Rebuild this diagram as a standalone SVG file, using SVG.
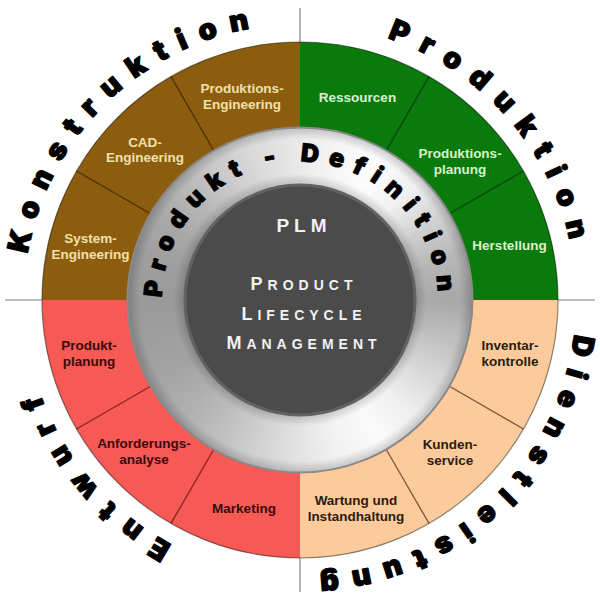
<svg xmlns="http://www.w3.org/2000/svg" width="600" height="603" viewBox="0 0 600 603">
<defs>
<style>
.lbl{font-family:"Liberation Sans",Arial,sans-serif;font-weight:bold;font-size:13.5px;text-anchor:middle}
.lb{fill:#f2e0a6}.lg{fill:#d6f2cc}.lr{fill:#3a0a0a}.lp{fill:#2a1c10}
.big{font-family:Inter,Roboto,"DejaVu Sans",sans-serif;font-weight:900;font-size:29px;fill:#000;stroke:#000;stroke-width:1.2;stroke-linejoin:round;text-anchor:middle}
.def{font-family:Inter,Roboto,"DejaVu Sans",sans-serif;font-weight:900;font-size:25px;fill:#000;stroke:#000;stroke-width:0.9;stroke-linejoin:round;text-anchor:middle}
.ctr{font-family:"Liberation Sans",Arial,sans-serif;font-weight:bold;fill:#f2f2f2;text-anchor:middle;letter-spacing:5px}
.xl{stroke:#828282;stroke-width:1.2;fill:none}
</style>
<path id="outerPath" d="M24,300 A276,276 0 0 1 576,300 A276,276 0 0 1 24,300"/>
<path id="defPath" d="M162,300 A138,138 0 0 1 438,300 A138,138 0 0 1 162,300"/>
<radialGradient id="shade" gradientUnits="userSpaceOnUse" cx="300" cy="300" r="173">
<stop offset="0.64" stop-color="#000" stop-opacity="0.25"/>
<stop offset="0.73" stop-color="#000" stop-opacity="0"/>
<stop offset="0.93" stop-color="#000" stop-opacity="0"/>
<stop offset="1" stop-color="#000" stop-opacity="0.2"/>
</radialGradient>
<linearGradient id="g0" gradientUnits="userSpaceOnUse" x1="445" y1="300" x2="440.06" y2="337.53"><stop offset="0" stop-color="#a8a8a8"/><stop offset="1" stop-color="#c0c0c0"/></linearGradient>
<linearGradient id="g1" gradientUnits="userSpaceOnUse" x1="440.06" y1="337.53" x2="425.57" y2="372.5"><stop offset="0" stop-color="#c0c0c0"/><stop offset="1" stop-color="#d8d8d8"/></linearGradient>
<linearGradient id="g2" gradientUnits="userSpaceOnUse" x1="425.57" y1="372.5" x2="402.53" y2="402.53"><stop offset="0" stop-color="#d8d8d8"/><stop offset="1" stop-color="#eeeeee"/></linearGradient>
<linearGradient id="g3" gradientUnits="userSpaceOnUse" x1="402.53" y1="402.53" x2="372.5" y2="425.57"><stop offset="0" stop-color="#eeeeee"/><stop offset="1" stop-color="#fafafa"/></linearGradient>
<linearGradient id="g4" gradientUnits="userSpaceOnUse" x1="372.5" y1="425.57" x2="337.53" y2="440.06"><stop offset="0" stop-color="#fafafa"/><stop offset="1" stop-color="#f2f2f2"/></linearGradient>
<linearGradient id="g5" gradientUnits="userSpaceOnUse" x1="337.53" y1="440.06" x2="300" y2="445"><stop offset="0" stop-color="#f2f2f2"/><stop offset="1" stop-color="#e4e4e4"/></linearGradient>
<linearGradient id="g6" gradientUnits="userSpaceOnUse" x1="300" y1="445" x2="262.47" y2="440.06"><stop offset="0" stop-color="#e4e4e4"/><stop offset="1" stop-color="#d2d2d2"/></linearGradient>
<linearGradient id="g7" gradientUnits="userSpaceOnUse" x1="262.47" y1="440.06" x2="227.5" y2="425.57"><stop offset="0" stop-color="#d2d2d2"/><stop offset="1" stop-color="#c0c0c0"/></linearGradient>
<linearGradient id="g8" gradientUnits="userSpaceOnUse" x1="227.5" y1="425.57" x2="197.47" y2="402.53"><stop offset="0" stop-color="#c0c0c0"/><stop offset="1" stop-color="#b0b0b0"/></linearGradient>
<linearGradient id="g9" gradientUnits="userSpaceOnUse" x1="197.47" y1="402.53" x2="174.43" y2="372.5"><stop offset="0" stop-color="#b0b0b0"/><stop offset="1" stop-color="#a4a4a4"/></linearGradient>
<linearGradient id="g10" gradientUnits="userSpaceOnUse" x1="174.43" y1="372.5" x2="159.94" y2="337.53"><stop offset="0" stop-color="#a4a4a4"/><stop offset="1" stop-color="#9e9e9e"/></linearGradient>
<linearGradient id="g11" gradientUnits="userSpaceOnUse" x1="159.94" y1="337.53" x2="155" y2="300"><stop offset="0" stop-color="#9e9e9e"/><stop offset="1" stop-color="#9a9a9a"/></linearGradient>
<linearGradient id="g12" gradientUnits="userSpaceOnUse" x1="155" y1="300" x2="159.94" y2="262.47"><stop offset="0" stop-color="#9a9a9a"/><stop offset="1" stop-color="#9e9e9e"/></linearGradient>
<linearGradient id="g13" gradientUnits="userSpaceOnUse" x1="159.94" y1="262.47" x2="174.43" y2="227.5"><stop offset="0" stop-color="#9e9e9e"/><stop offset="1" stop-color="#a8a8a8"/></linearGradient>
<linearGradient id="g14" gradientUnits="userSpaceOnUse" x1="174.43" y1="227.5" x2="197.47" y2="197.47"><stop offset="0" stop-color="#a8a8a8"/><stop offset="1" stop-color="#b8b8b8"/></linearGradient>
<linearGradient id="g15" gradientUnits="userSpaceOnUse" x1="197.47" y1="197.47" x2="227.5" y2="174.43"><stop offset="0" stop-color="#b8b8b8"/><stop offset="1" stop-color="#cccccc"/></linearGradient>
<linearGradient id="g16" gradientUnits="userSpaceOnUse" x1="227.5" y1="174.43" x2="262.47" y2="159.94"><stop offset="0" stop-color="#cccccc"/><stop offset="1" stop-color="#dcdcdc"/></linearGradient>
<linearGradient id="g17" gradientUnits="userSpaceOnUse" x1="262.47" y1="159.94" x2="300" y2="155"><stop offset="0" stop-color="#dcdcdc"/><stop offset="1" stop-color="#eaeaea"/></linearGradient>
<linearGradient id="g18" gradientUnits="userSpaceOnUse" x1="300" y1="155" x2="337.53" y2="159.94"><stop offset="0" stop-color="#eaeaea"/><stop offset="1" stop-color="#f6f6f6"/></linearGradient>
<linearGradient id="g19" gradientUnits="userSpaceOnUse" x1="337.53" y1="159.94" x2="372.5" y2="174.43"><stop offset="0" stop-color="#f6f6f6"/><stop offset="1" stop-color="#fcfcfc"/></linearGradient>
<linearGradient id="g20" gradientUnits="userSpaceOnUse" x1="372.5" y1="174.43" x2="402.53" y2="197.47"><stop offset="0" stop-color="#fcfcfc"/><stop offset="1" stop-color="#f0f0f0"/></linearGradient>
<linearGradient id="g21" gradientUnits="userSpaceOnUse" x1="402.53" y1="197.47" x2="425.57" y2="227.5"><stop offset="0" stop-color="#f0f0f0"/><stop offset="1" stop-color="#d0d0d0"/></linearGradient>
<linearGradient id="g22" gradientUnits="userSpaceOnUse" x1="425.57" y1="227.5" x2="440.06" y2="262.47"><stop offset="0" stop-color="#d0d0d0"/><stop offset="1" stop-color="#b6b6b6"/></linearGradient>
<linearGradient id="g23" gradientUnits="userSpaceOnUse" x1="440.06" y1="262.47" x2="445" y2="300"><stop offset="0" stop-color="#b6b6b6"/><stop offset="1" stop-color="#a8a8a8"/></linearGradient>
</defs>
<rect width="600" height="603" fill="#fff"/>

<g id="lines">
<line class="xl" x1="300" y1="8" x2="300" y2="42"/>
<line class="xl" x1="300" y1="558" x2="300" y2="592"/>
<line class="xl" x1="5" y1="300" x2="42" y2="300"/>
<line class="xl" x1="558" y1="300" x2="595" y2="300"/>
</g>

<g id="seg-system-engineering"><path d="M300,300L42,300A258,258 0 0 1 76.57,171Z" fill="#8c5d0e"/>
<text class="lbl lb" x="90.5" y="243">System-<tspan x="90.5" dy="16">Engineering</tspan></text></g>
<g id="seg-cad-engineering"><path d="M300,300L76.57,171A258,258 0 0 1 171,76.57Z" fill="#8c5d0e"/>
<text class="lbl lb" x="145" y="147">CAD-<tspan x="145" dy="14.5">Engineering</tspan></text></g>
<g id="seg-produktions-engineering"><path d="M300,300L171,76.57A258,258 0 0 1 300,42Z" fill="#8c5d0e"/>
<text class="lbl lb" x="242" y="93">Produktions-<tspan x="242" dy="16">Engineering</tspan></text></g>

<g id="seg-ressourcen"><path d="M300,300L300,42A258,258 0 0 1 429,76.57Z" fill="#0b7a0d"/>
<text class="lbl lg" x="357.5" y="102">Ressourcen</text></g>
<g id="seg-produktionsplanung"><path d="M300,300L429,76.57A258,258 0 0 1 523.43,171Z" fill="#0b7a0d"/>
<text class="lbl lg" x="460" y="158">Produktions-<tspan x="460" dy="16">planung</tspan></text></g>
<g id="seg-herstellung"><path d="M300,300L523.43,171A258,258 0 0 1 558,300Z" fill="#0b7a0d"/>
<text class="lbl lg" x="509.5" y="250">Herstellung</text></g>

<g id="seg-inventarkontrolle"><path d="M300,300L558,300A258,258 0 0 1 523.43,429Z" fill="#fdcb9b"/>
<text class="lbl lp" x="510" y="350">Inventar-<tspan x="510" dy="16">kontrolle</tspan></text></g>
<g id="seg-kundenservice"><path d="M300,300L523.43,429A258,258 0 0 1 429,523.43Z" fill="#fdcb9b"/>
<text class="lbl lp" x="450" y="449">Kunden-<tspan x="450" dy="16">service</tspan></text></g>
<g id="seg-wartung"><path d="M300,300L429,523.43A258,258 0 0 1 300,558Z" fill="#fdcb9b"/>
<text class="lbl lp" x="356" y="505">Wartung und<tspan x="356" dy="16">Instandhaltung</tspan></text></g>

<g id="seg-marketing"><path d="M300,300L300,558A258,258 0 0 1 171,523.43Z" fill="#f75a55"/>
<text class="lbl lr" x="244" y="513">Marketing</text></g>
<g id="seg-anforderungsanalyse"><path d="M300,300L171,523.43A258,258 0 0 1 76.57,429Z" fill="#f75a55"/>
<text class="lbl lr" x="144" y="448">Anforderungs-<tspan x="144" dy="16">analyse</tspan></text></g>
<g id="seg-produktplanung"><path d="M300,300L76.57,429A258,258 0 0 1 42,300Z" fill="#f75a55"/>
<text class="lbl lr" x="89" y="350">Produkt-<tspan x="89" dy="16">planung</tspan></text></g>

<g id="dividers" stroke-width="1.3">
<line x1="151.04" y1="214" x2="76.57" y2="171" stroke="#4a2e06"/>
<line x1="214" y1="151.04" x2="171" y2="76.57" stroke="#4a2e06"/>
<line x1="386" y1="151.04" x2="429" y2="76.57" stroke="#06430a"/>
<line x1="448.96" y1="214" x2="523.43" y2="171" stroke="#06430a"/>
<line x1="448.96" y1="386" x2="523.43" y2="429" stroke="#7a5634"/>
<line x1="386" y1="448.96" x2="429" y2="523.43" stroke="#7a5634"/>
<line x1="214" y1="448.96" x2="171" y2="523.43" stroke="#8a2020"/>
<line x1="151.04" y1="386" x2="76.57" y2="429" stroke="#8a2020"/>
<circle cx="300" cy="300" r="258" fill="none" stroke="#000" stroke-opacity="0.45" stroke-width="1.2"/>
</g>

<g id="definition-ring">
<circle cx="300" cy="300" r="172" fill="#c8c8c8"/>
<g shape-rendering="crispEdges">
<path d="M300,300L472,300A172,172 0 0 1 466.14,344.52Z" fill="url(#g0)"/>
<path d="M300,300L466.14,344.52A172,172 0 0 1 448.96,386Z" fill="url(#g1)"/>
<path d="M300,300L448.96,386A172,172 0 0 1 421.62,421.62Z" fill="url(#g2)"/>
<path d="M300,300L421.62,421.62A172,172 0 0 1 386,448.96Z" fill="url(#g3)"/>
<path d="M300,300L386,448.96A172,172 0 0 1 344.52,466.14Z" fill="url(#g4)"/>
<path d="M300,300L344.52,466.14A172,172 0 0 1 300,472Z" fill="url(#g5)"/>
<path d="M300,300L300,472A172,172 0 0 1 255.48,466.14Z" fill="url(#g6)"/>
<path d="M300,300L255.48,466.14A172,172 0 0 1 214,448.96Z" fill="url(#g7)"/>
<path d="M300,300L214,448.96A172,172 0 0 1 178.38,421.62Z" fill="url(#g8)"/>
<path d="M300,300L178.38,421.62A172,172 0 0 1 151.04,386Z" fill="url(#g9)"/>
<path d="M300,300L151.04,386A172,172 0 0 1 133.86,344.52Z" fill="url(#g10)"/>
<path d="M300,300L133.86,344.52A172,172 0 0 1 128,300Z" fill="url(#g11)"/>
<path d="M300,300L128,300A172,172 0 0 1 133.86,255.48Z" fill="url(#g12)"/>
<path d="M300,300L133.86,255.48A172,172 0 0 1 151.04,214Z" fill="url(#g13)"/>
<path d="M300,300L151.04,214A172,172 0 0 1 178.38,178.38Z" fill="url(#g14)"/>
<path d="M300,300L178.38,178.38A172,172 0 0 1 214,151.04Z" fill="url(#g15)"/>
<path d="M300,300L214,151.04A172,172 0 0 1 255.48,133.86Z" fill="url(#g16)"/>
<path d="M300,300L255.48,133.86A172,172 0 0 1 300,128Z" fill="url(#g17)"/>
<path d="M300,300L300,128A172,172 0 0 1 344.52,133.86Z" fill="url(#g18)"/>
<path d="M300,300L344.52,133.86A172,172 0 0 1 386,151.04Z" fill="url(#g19)"/>
<path d="M300,300L386,151.04A172,172 0 0 1 421.62,178.38Z" fill="url(#g20)"/>
<path d="M300,300L421.62,178.38A172,172 0 0 1 448.96,214Z" fill="url(#g21)"/>
<path d="M300,300L448.96,214A172,172 0 0 1 466.14,255.48Z" fill="url(#g22)"/>
<path d="M300,300L466.14,255.48A172,172 0 0 1 472,300Z" fill="url(#g23)"/>
</g>
<circle cx="300" cy="300" r="173" fill="url(#shade)"/>
<circle cx="300" cy="300" r="172.5" fill="none" stroke="#8a8a8a" stroke-width="2"/>
<text class="def" letter-spacing="9.3"><textPath href="#defPath" startOffset="218.3">Produkt - Definition</textPath></text>
</g>

<g id="plm-core">
<circle cx="300" cy="300" r="115" fill="#4b4b4b" stroke="#626262" stroke-width="3"/>
<text class="ctr" x="304" y="232" font-size="19">PLM</text>
<text class="ctr" x="304" y="290" font-size="18">P<tspan font-size="14">RODUCT</tspan></text>
<text class="ctr" x="304" y="320" font-size="18">L<tspan font-size="14">IFECYCLE</tspan></text>
<text class="ctr" x="304" y="349" font-size="18">M<tspan font-size="14">ANAGEMENT</tspan></text>
</g>

<g id="phase-labels">
<text class="big" letter-spacing="13.1"><textPath href="#outerPath" startOffset="221">Konstruktion</textPath></text>
<text class="big" letter-spacing="13.7"><textPath href="#outerPath" startOffset="671">Produktion</textPath></text>
<text class="big" letter-spacing="12.7"><textPath href="#outerPath" startOffset="1097">Dienstleistung</textPath></text>
<text class="big" letter-spacing="14.2"><textPath href="#outerPath" startOffset="1542">Entwurf</textPath></text>
</g>
</svg>
